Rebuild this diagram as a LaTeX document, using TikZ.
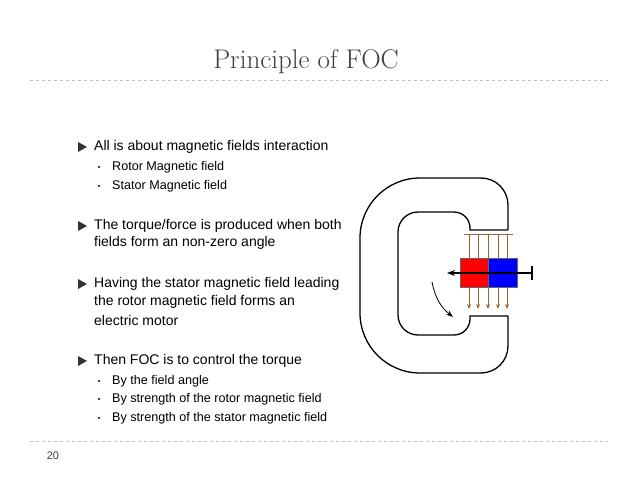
\documentclass[tikz,border=0pt]{standalone}
\usepackage{fontspec}
\setsansfont{Liberation Sans}
\usetikzlibrary{arrows.meta}
\begin{document}
\begin{tikzpicture}[x=1pt,y=-1pt,
  main/.style={anchor=west,inner sep=0,font=\sffamily\fontsize{14}{16}\selectfont},
  sub/.style={anchor=west,inner sep=0,font=\sffamily\fontsize{12.6}{14}\selectfont},
  tri/.style={fill=black!80,draw=none},
  sep/.style={draw=black!25,dashed,line width=0.6pt},
  core/.style={line width=1.3pt},
  flux/.style={draw=brown!80!black,line width=0.8pt}]
\useasboundingbox (0,0) rectangle (638,478);
\node[font=\fontsize{27}{30}\selectfont,text=black!75] (title) at (306,62) {Principle of FOC};
\draw[sep] (30,80) -- (608,80);
\draw[sep] (30,441) -- (608,441);
\node[font=\sffamily\fontsize{11}{13}\selectfont,text=black!75] (pg) at (53,456) {20};
% bullets
\foreach \y/\t in {147/{All is about magnetic fields interaction},226/{The torque/force is produced when both},284/{Having the stator magnetic field leading},361/{Then FOC is to control the torque}}{
  \fill[tri] (78,\y-5) -- (87,\y) -- (78,\y+5) -- cycle;
  \node[main] at (94,\y) {\t};}
\node[main] (l2) at (94,243) {fields form an non-zero angle};
\node[main] (l3) at (94,302) {the rotor magnetic field forms an};
\node[main] (l4) at (94,320) {electric motor};
\foreach \y/\t in {167/{Rotor Magnetic field},186/{Stator Magnetic field},381/{By the field angle},399/{By strength of the rotor magnetic field},418/{By strength of the stator magnetic field}}{
  \fill (99,\y) circle (1.2);
  \node[sub] at (112,\y) {\t};}
% core
\draw[core] (508,230) -- (508,205) arc[start angle=0,end angle=-90,radius=27] -- (420,178)
  arc[start angle=-90,end angle=-180,radius=60] -- (360,313)
  arc[start angle=180,end angle=90,radius=60] -- (481,373)
  arc[start angle=90,end angle=0,radius=27] -- (508,316);
\draw[core] (508,230) -- (470,230) -- (470,228) arc[start angle=0,end angle=-90,radius=16] -- (418,212)
  arc[start angle=-90,end angle=-180,radius=20] -- (398,315)
  arc[start angle=180,end angle=90,radius=20] -- (454,335)
  arc[start angle=90,end angle=0,radius=16] -- (470,316) -- (508,316);
% flux
\draw[flux] (464,234) -- (513,234);
\foreach \x in {469,478,488,498,507}
  \draw[flux,-{Stealth[length=5pt,width=4pt]}] (\x,234) -- (\x,309);
\fill[red,draw=black!60] (460,258) rectangle (488,287);
\fill[blue,draw=black!60] (488,258) rectangle (517,287);
\draw[line width=1.3pt,-{Stealth[length=8pt,width=6pt]}] (532,273) -- (447,273);
\draw[line width=1.3pt] (532,266) -- (532,280);
\draw[line width=0.8pt,-{Stealth[length=7pt,width=5pt]}] (432,282) to[bend right=20] (453,317);
\end{tikzpicture}
\end{document}
